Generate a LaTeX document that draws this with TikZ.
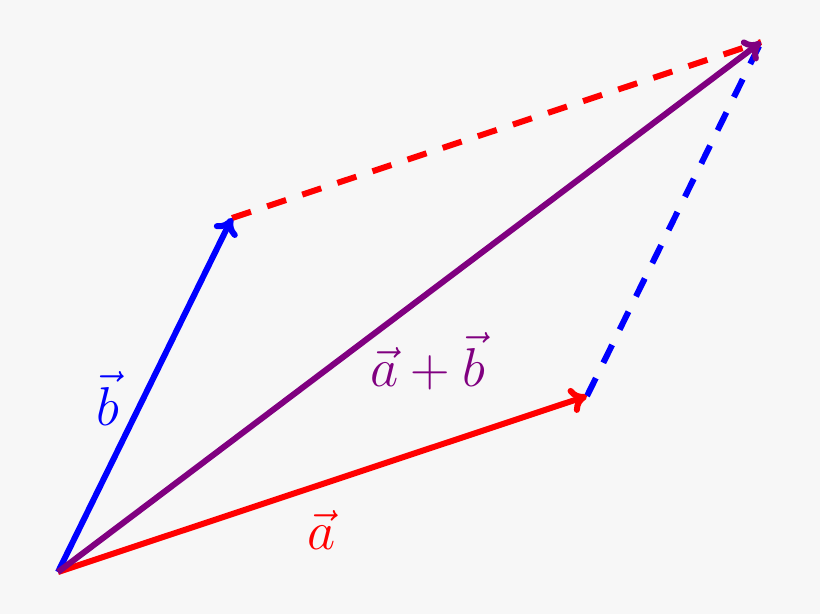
\documentclass[tikz,border=0pt]{standalone}
\usepackage{graphicx}
\usetikzlibrary{arrows.meta}
\definecolor{bg}{HTML}{F7F7F7}
\definecolor{vpurple}{HTML}{800080}
\newcommand{\biglbl}[1]{\scalebox{2.2}{\Huge #1}}
\begin{document}
\begin{tikzpicture}[x=1pt,y=-1pt,
  vec/.style={line width=6pt,-{To[length=17pt,width=26pt]}},
  dashline/.style={line width=6pt,dash pattern=on 20pt off 17pt},
  lbl/.style={anchor=base,inner sep=0pt}]
\fill[bg] (0,0) rectangle (820,614);
\useasboundingbox (0,0) rectangle (820,614);
\coordinate (O) at (58,572);
\coordinate (A) at (587,396);
\coordinate (B) at (232,218);
\coordinate (S) at (761,42);
\draw[dashline,red] (B) -- (S);
\draw[dashline,blue] (A) -- (S);
\draw[vec,red] (O) -- (A);
\draw[vec,blue] (O) -- (B);
\draw[vec,vpurple] (O) -- (S);
\node[lbl,red] (la) at (322,549) {\biglbl{$\vec{a}$}};
\node[lbl,blue] (lb) at (108,425) {\biglbl{$\vec{b}$}};
\node[lbl,vpurple] (ls) at (428,386) {\biglbl{$\vec{a}+\vec{b}$}};
\end{tikzpicture}
\end{document}
